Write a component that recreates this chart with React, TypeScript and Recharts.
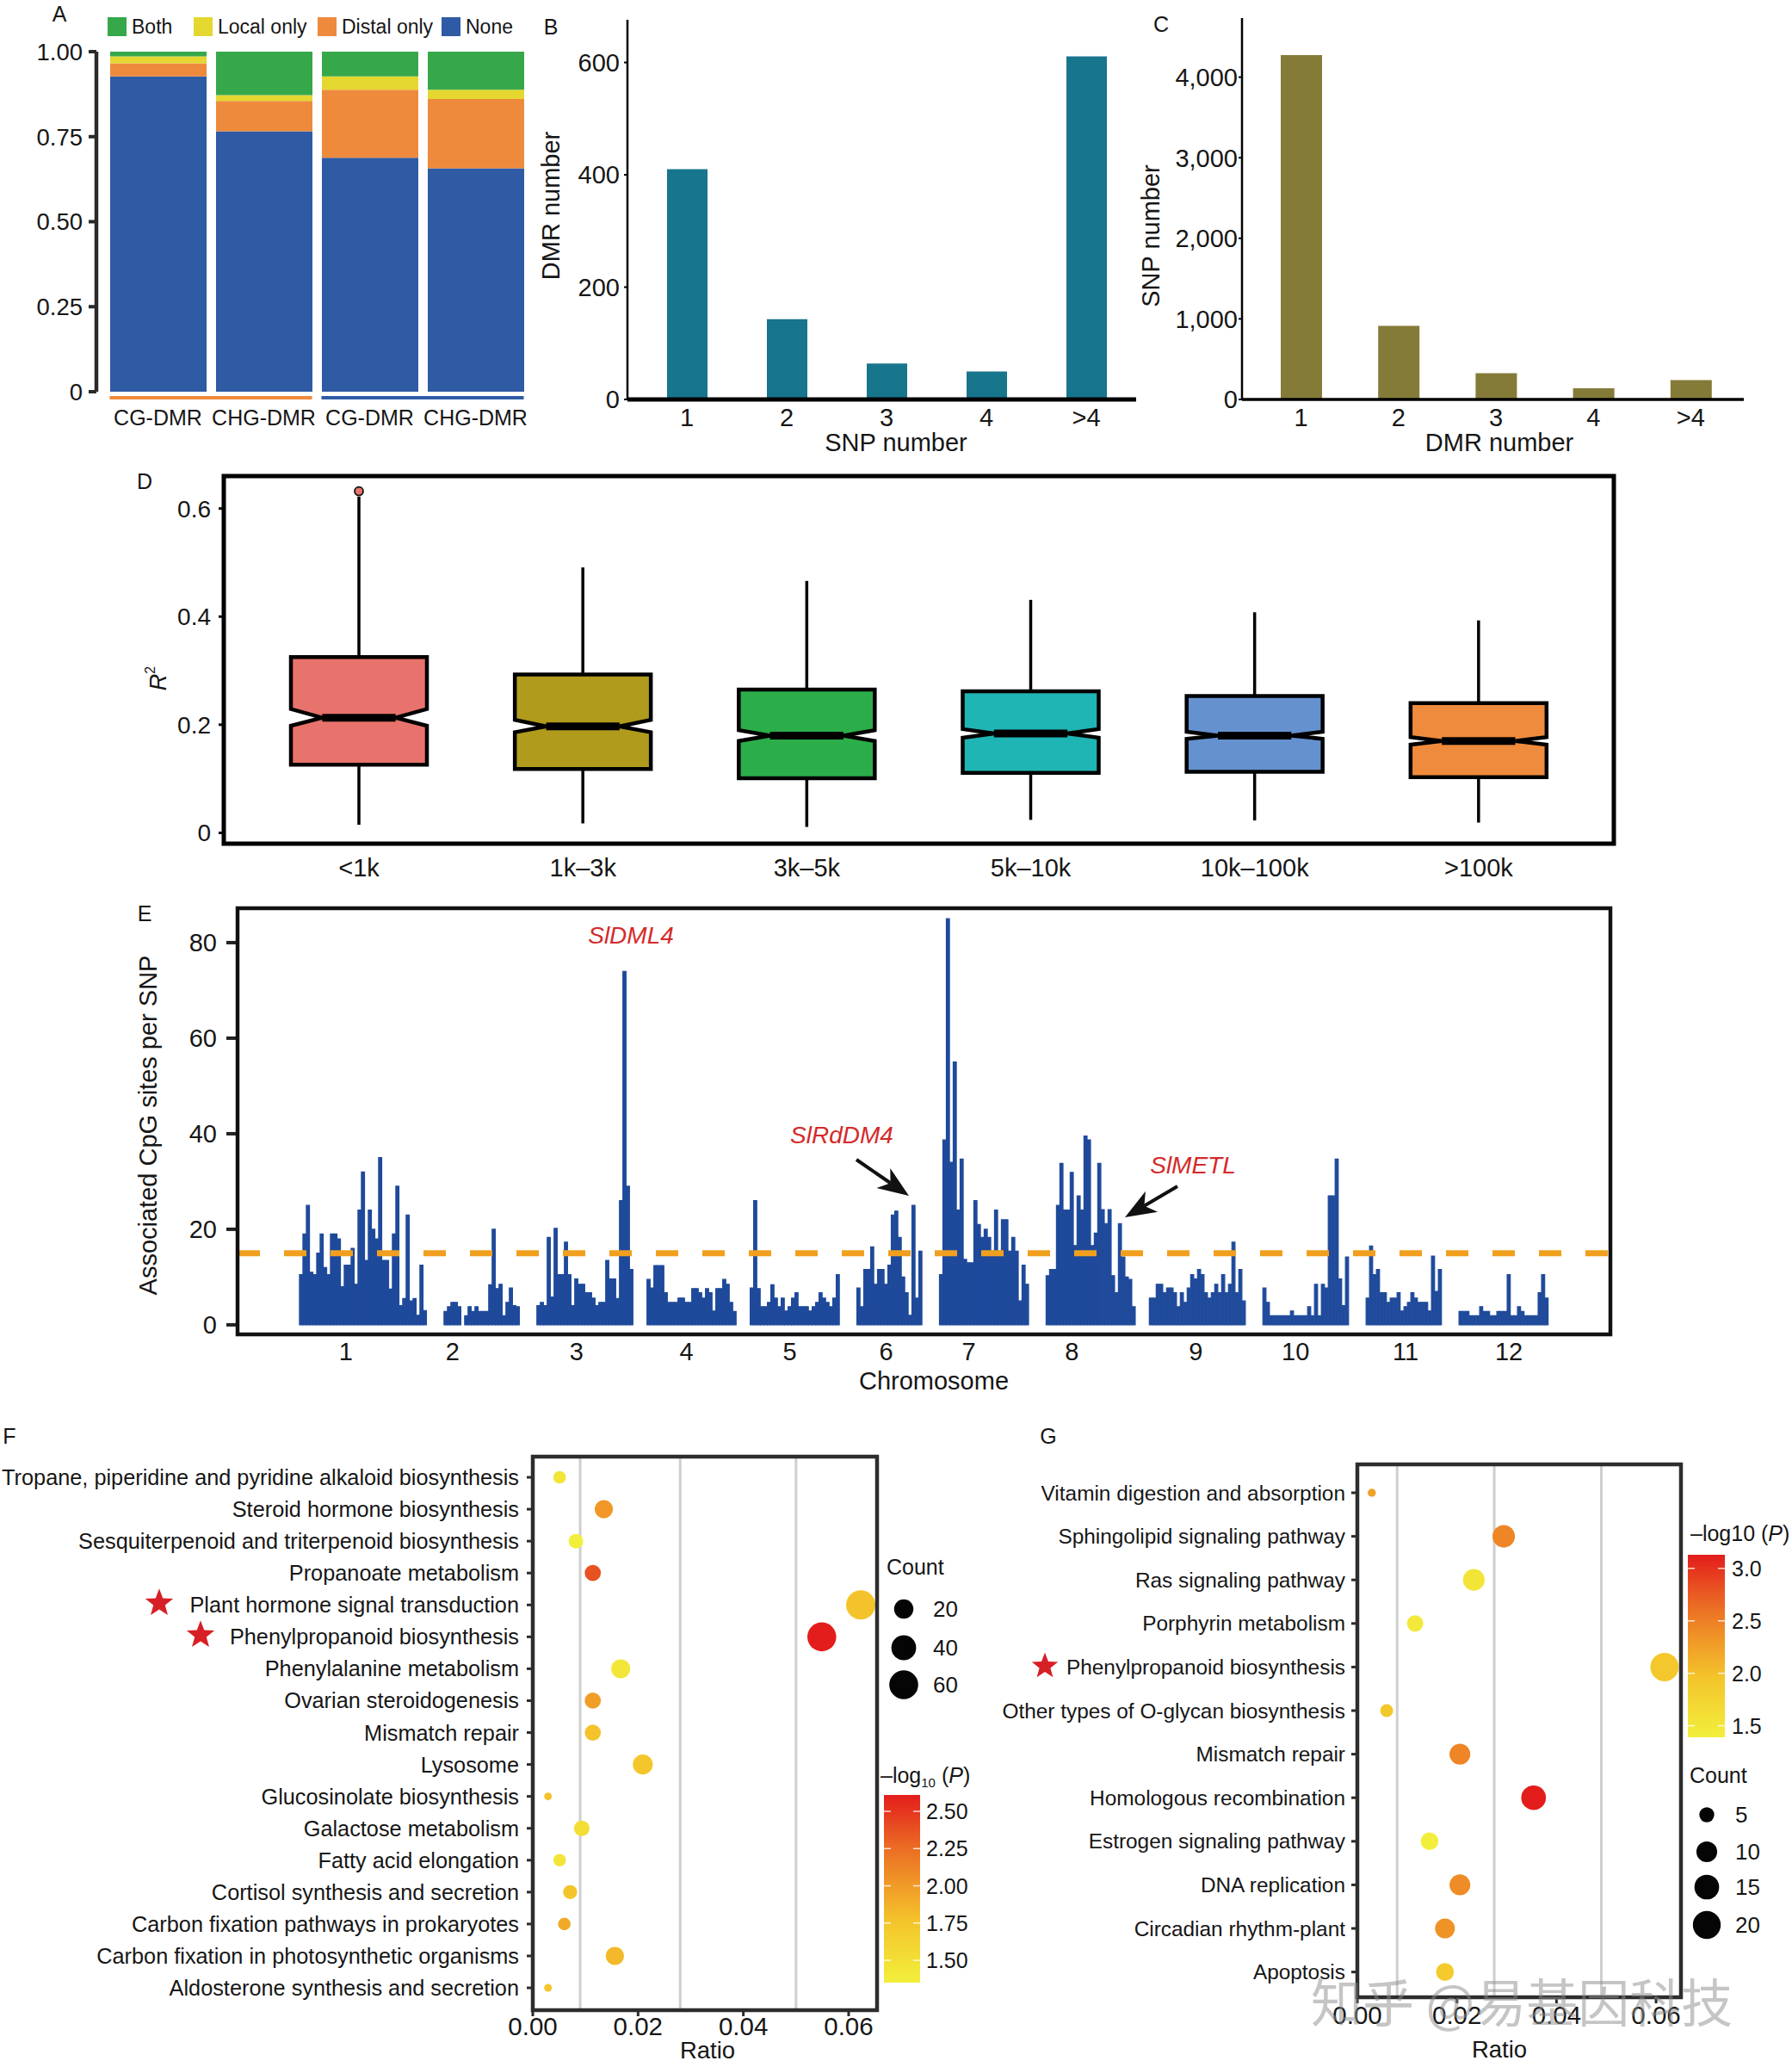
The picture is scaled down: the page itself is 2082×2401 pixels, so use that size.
import React from 'react';
import { BarChart, Bar, XAxis, YAxis, ScatterChart, Scatter, ReferenceLine } from 'recharts';

const FONT = "'Liberation Sans', Arial, Helvetica, sans-serif";
const INK = '#161616';
const tickFont = (size: number) => ({ fontSize: size, fill: INK, fontFamily: FONT });

// plot rectangles in page pixels; every chart is laid out from the page origin
const PLOT = {
  A: { left: 112, top: 60, right: 614, bottom: 455 },
  B: { left: 729, top: 23, right: 1320, bottom: 464 },
  C: { left: 1443, top: 21, right: 2026, bottom: 464 },
  D: { left: 260, top: 553, right: 1875, bottom: 980 },
  E: { left: 276, top: 1055, right: 1871, bottom: 1550 },
  F: { left: 619, top: 1692, right: 1019, bottom: 2335 },
  G: { left: 1577, top: 1701, right: 1953, bottom: 2320 },
};

/* ---------- A: share of DMRs by association class ---------- */
const dmrTypes = ['CG-DMR', 'CHG-DMR', 'CG-DMR', 'CHG-DMR'];
const dmrGroupColors = ['#ef8a3c', '#ef8a3c', '#2f5ba5', '#2f5ba5'];
const shareNone = [0.927, 0.766, 0.688, 0.657];
const shareDistal = [0.039, 0.089, 0.2, 0.204];
const shareLocal = [0.02, 0.017, 0.039, 0.027];
const shareBoth = [0.014, 0.128, 0.073, 0.112];
const classNames = ['Both', 'Local only', 'Distal only', 'None'];
const classColors = ['#36a84a', '#e4d72f', '#ee8a3c', '#2f5aa4'];
const classLegendX = [125, 225, 369, 513];

/* ---------- B / C: SNP–DMR counts ---------- */
const countBins = ['1', '2', '3', '4', '>4'];
const dmrPerSnpBin = [410, 143, 64, 50, 611];
const snpPerDmrBin = [4274, 913, 326, 139, 241];

/* ---------- D: R² by distance ---------- */
const distClasses = ['<1k', '1k–3k', '3k–5k', '5k–10k', '10k–100k', '>100k'];
const r2Low = [0.015, 0.0175, 0.011, 0.024, 0.023, 0.019];
const r2Q1 = [0.126, 0.118, 0.101, 0.111, 0.113, 0.103];
const r2Median = [0.213, 0.197, 0.18, 0.184, 0.18, 0.17];
const r2Q3 = [0.325, 0.293, 0.265, 0.262, 0.253, 0.24];
const r2High = [0.622, 0.491, 0.466, 0.431, 0.408, 0.393];
const r2NotchLo = [0.198, 0.186, 0.17, 0.176, 0.174, 0.163];
const r2NotchHi = [0.229, 0.209, 0.19, 0.192, 0.187, 0.177];
const r2Outliers = [[0.632], [], [], [], [], []];
const boxColors = ['#e8736c', '#b09b1c', '#2bae4a', '#1fb5b4', '#6592cf', '#ef8b3c'];

/* ---------- E: associated CpG sites per SNP along the genome ---------- */
const chromNames = ['1', '2', '3', '4', '5', '6', '7', '8', '9', '10', '11', '12'];
const chromStartBin = [18, 60, 87, 119, 149, 180, 204, 235, 265, 298, 328, 355];
const chromLabelBin = [31, 62, 98, 130, 160, 188, 212, 242, 278, 307, 339, 369];
const E_BINS = 399;
const chr1 = [10.5, 19, 25, 11, 10.5, 15, 19, 12, 10.5, 19, 19, 18, 8, 12.5, 12.5, 16, 8.5, 24, 32, 13.5, 24, 20, 18, 35, 13.5, 13.5, 7.5, 19, 29, 4, 5.5, 23, 5, 5.5, 2, 12.5, 3];
const chr2 = [2.8, 3.8, 4.7, 4.7, 3.8, null, 1.9, 3.8, 2.8, 3.8, 2.8, 2.8, 2.8, 8.4, 20, 7.6, 8.5, 1.9, 4.7, 7.7, 4, 3.8];
const chr3 = [4, 4.7, 4, 18.3, 5.8, 20.2, 10.5, 10.5, 17.3, 10.5, 4, 9.6, 8.5, 8.5, 6.7, 6.7, 5.6, 4, 4.7, 4.7, 13.5, 9.6, 9.6, 5.5, 26, 74, 29, 11.6];
const chr4 = [9.5, 7.7, 12.4, 12.4, 12.4, 6.7, 4.7, 4.7, 4.7, 5.6, 5.6, 4.7, 4.7, 7.6, 7.6, 6.7, 5.6, 7.6, 6.7, 2.9, 7.6, 7.6, 9.5, 8.5, 4.7, 2.8];
const chr5 = [7.7, 26, 7.6, 3.8, 3.8, 4.7, 8.4, 5.6, 3.8, 5.6, 2.9, 3.8, 5.6, 6.7, 3.8, 3.8, 3.8, 2.9, 3.8, 4.7, 6.7, 5.6, 4.7, 3.8, 5.6, 10.5];
const chr6 = [7.7, 3.8, 11.6, 11.6, 16.3, 8.5, 11.6, 11.6, 8.5, 12.5, 23, 23.8, 18.3, 10, 6.7, 2, 25, 5.6, 15.4];
const chr7 = [10.5, 38.7, 85, 34, 55, 24, 34.7, 13.7, 13, 13, 26, 21, 18.3, 20, 18.3, 15.4, 24, 15.4, 22, 22, 15.4, 18.3, 15.4, 5, 12.5, 8.5];
const chr8 = [10.3, 11.6, 11.6, 25, 33.8, 24, 24, 31.9, 16.6, 27, 24, 39.5, 38.7, 16.6, 19.2, 33.8, 24.1, 21.2, 24.1, 10.3, 6.7, 21.2, 14.2, 10, 9.5, 3.8];
const chr9 = [5.6, 5.6, 8.5, 8.5, 6.7, 7.7, 7.7, 6.7, 3.8, 6.7, 4.7, 7.7, 10.5, 9.6, 11.6, 10.5, 6.7, 5.6, 6.7, 8.5, 6.7, 10.5, 6.7, 8.5, 17.3, 6.7, 11.6, 5];
const chr10 = [7.7, 4.7, 1.9, 1.9, 1.9, 1.9, 1.9, 1.9, 2.9, 1.9, 1.9, 1.9, 1.9, 3.8, 1.9, 8.5, 1.9, 8.5, 7.7, 27, 27, 34.7, 9.6, 4, 14.2];
const chr11 = [5.6, 16.5, 10.5, 11.6, 6.7, 6.7, 4.7, 5.6, 5.6, 6.7, 2.9, 3.8, 4.7, 6.7, 5.6, 4.7, 4.7, 4.7, 2.9, 14.4, 7, 11.6];
const chr12 = [2.8, 2.8, 2.8, 1.9, 1.9, 1.9, 3.8, 2.8, 2.8, 1.9, 1.9, 2.8, 2.8, 2.8, 10.5, 1.9, 1.9, 3.8, 2.8, 1.9, 1.9, 1.9, 1.9, 6.7, 10.5, 5.6];
const chromSites = [chr1, chr2, chr3, chr4, chr5, chr6, chr7, chr8, chr9, chr10, chr11, chr12];
const SITE_THRESHOLD = 15;
const SITE_BLUE = '#1f4a9b';

/* ---------- F: KEGG enrichment ---------- */
const fTerms = [
  'Tropane, piperidine and pyridine alkaloid biosynthesis',
  'Steroid hormone biosynthesis',
  'Sesquiterpenoid and triterpenoid biosynthesis',
  'Propanoate metabolism',
  'Plant hormone signal transduction',
  'Phenylpropanoid biosynthesis',
  'Phenylalanine metabolism',
  'Ovarian steroidogenesis',
  'Mismatch repair',
  'Lysosome',
  'Glucosinolate biosynthesis',
  'Galactose metabolism',
  'Fatty acid elongation',
  'Cortisol synthesis and secretion',
  'Carbon fixation pathways in prokaryotes',
  'Carbon fixation in photosynthetic organisms',
  'Aldosterone synthesis and secretion',
];
const fRatio = [0.0051, 0.0135, 0.0082, 0.0114, 0.0623, 0.0549, 0.0167, 0.0114, 0.0114, 0.0209, 0.0029, 0.0093, 0.0051, 0.0071, 0.006, 0.0156, 0.0029];
const fCount = [6, 17, 9, 12, 62, 60, 19, 12, 12, 22, 3, 11, 6, 8, 6, 17, 3];
const fLogP = [1.45, 2.02, 1.35, 2.38, 1.77, 2.61, 1.44, 1.98, 1.78, 1.75, 1.78, 1.51, 1.46, 1.76, 1.92, 1.83, 1.76];
const fStarred = [4, 5];

/* ---------- G: KEGG enrichment ---------- */
const gTerms = [
  'Vitamin digestion and absorption',
  'Sphingolipid signaling pathway',
  'Ras signaling pathway',
  'Porphyrin metabolism',
  'Phenylpropanoid biosynthesis',
  'Other types of O-glycan biosynthesis',
  'Mismatch repair',
  'Homologous recombination',
  'Estrogen signaling pathway',
  'DNA replication',
  'Circadian rhythm-plant',
  'Apoptosis',
];
const gRatio = [0.0029, 0.0294, 0.0234, 0.0116, 0.0617, 0.0059, 0.0206, 0.0354, 0.0145, 0.0206, 0.0176, 0.0176];
const gCount = [3, 12, 11, 6, 21, 4, 10, 15, 7, 10, 9, 7];
const gLogP = [2.25, 2.45, 1.53, 1.47, 1.91, 1.93, 2.45, 3.13, 1.39, 2.4, 2.35, 1.88];

const ratioTicks = [0, 0.02, 0.04, 0.06];

// yellow -> orange -> red ramp shared by both enrichment panels
const heatStops: [number, string][] = [
  [0, '#f2ef3c'],
  [0.33, '#f4c42b'],
  [0.52, '#f09a28'],
  [0.72, '#eb6c24'],
  [1, '#e31d1c'],
];
const hexRgb = (h: string) => [1, 3, 5].map((k) => parseInt(h.slice(k, k + 2), 16));
const heat = (t: number) => {
  const u = Math.min(1, Math.max(0, t));
  for (let k = 1; k < heatStops.length; k++) {
    const [o1, c1] = heatStops[k];
    const [o0, c0] = heatStops[k - 1];
    if (u <= o1) {
      const f = (u - o0) / (o1 - o0);
      const a = hexRgb(c0);
      const b = hexRgb(c1);
      return `rgb(${a.map((v, j) => Math.round(v + (b[j] - v) * f)).join(',')})`;
    }
  }
  return heatStops[heatStops.length - 1][1];
};

// ggplot-style area scaling: diameter grows with sqrt of the rescaled count
const bubbleSize = (cMin: number, cMax: number, dMin: number, dMax: number) => (c: number) =>
  dMin + (dMax - dMin) * Math.sqrt(Math.max(0, (c - cMin) / (cMax - cMin)));

const F_P = [1.35, 2.61];
const G_P = [1.39, 3.13];
const sizeF = bubbleSize(3, 62, 9, 34);
const sizeG = bubbleSize(3, 21, 9.5, 33);
const colorF = (v: number) => heat((v - F_P[0]) / (F_P[1] - F_P[0]));
const colorG = (v: number) => heat((v - G_P[0]) / (G_P[1] - G_P[0]));

const Layer = ({ children }: { children: React.ReactNode }) => (
  <div style={{ position: 'absolute', left: 0, top: 0 }}>{children}</div>
);

/* ---------------- A ---------------- */
const DmrTick = (props: any) => {
  const { x, y, payload } = props;
  const i = payload.value as number;
  const lead = i % 2 === 0;
  return (
    <g>
      <line x1={lead ? x - 56 : x - 61.5} x2={lead ? x + 61.5 : x + 56} y1={y + 7} y2={y + 7} stroke={dmrGroupColors[i]} strokeWidth={4} />
      <text x={x} y={y + 39} textAnchor="middle" fontSize={25} fill={INK} fontFamily={FONT}>
        {dmrTypes[i]}
      </text>
    </g>
  );
};

const PanelA = () => {
  const p = PLOT.A;
  const rows = dmrTypes.map((_, i) => ({
    id: i,
    none: shareNone[i],
    distal: shareDistal[i],
    local: shareLocal[i],
    both: shareBoth[i],
  }));
  return (
    <Layer>
      <BarChart width={640} height={p.bottom + 50} data={rows} margin={{ top: p.top, right: 640 - p.right, bottom: 0, left: p.left - 80 }}>
        <XAxis dataKey="id" height={50} padding={{ left: 10, right: 0 }} axisLine={false} tickLine={false} tickSize={0} tickMargin={0} interval={0} tick={<DmrTick />} />
        <YAxis
          width={80}
          domain={[0, 1]}
          ticks={[0, 0.25, 0.5, 0.75, 1]}
          tickFormatter={(v: number) => (v === 0 ? '0' : v.toFixed(2))}
          axisLine={{ stroke: '#2a2a2a', strokeWidth: 4.5 }}
          tickLine={{ stroke: '#2a2a2a', strokeWidth: 4 }}
          tickSize={9}
          tickMargin={7}
          interval={0}
          tick={tickFont(27.5)}
        />
        <Bar dataKey="none" stackId="s" fill={classColors[3]} barSize={112} isAnimationActive={false} />
        <Bar dataKey="distal" stackId="s" fill={classColors[2]} barSize={112} isAnimationActive={false} />
        <Bar dataKey="local" stackId="s" fill={classColors[1]} barSize={112} isAnimationActive={false} />
        <Bar dataKey="both" stackId="s" fill={classColors[0]} barSize={112} isAnimationActive={false} />
      </BarChart>
    </Layer>
  );
};

/* ---------------- B & C ---------------- */
const CountBars = ({ p, width, values, domainMax, ticks, fmt, color, barSize, pad, xLine, labelGap }: any) => {
  const rows = countBins.map((k, i) => ({ k, n: values[i] }));
  return (
    <Layer>
      <BarChart width={width} height={540} data={rows} margin={{ top: p.top, right: width - p.right, bottom: 540 - p.bottom - 60, left: p.left - 110 }}>
        <XAxis dataKey="k" height={60} padding={pad} axisLine={{ stroke: '#000', strokeWidth: xLine }} tickLine={false} tickSize={0} tickMargin={10} interval={0} tick={tickFont(29)} />
        <YAxis
          width={110}
          domain={[0, domainMax]}
          ticks={ticks}
          tickFormatter={fmt}
          axisLine={{ stroke: '#000', strokeWidth: 2.5 }}
          tickLine={{ stroke: '#000', strokeWidth: 2 }}
          tickSize={4}
          tickMargin={labelGap}
          interval={0}
          tick={tickFont(29)}
        />
        <Bar dataKey="n" fill={color} barSize={barSize} isAnimationActive={false} />
      </BarChart>
    </Layer>
  );
};

/* ---------------- D ---------------- */
const BoxShape = (props: any) => {
  const { x, y, width, height, payload, index } = props;
  if (height == null || !payload) return <g />;
  const top = Math.min(y, y + height);
  const h = Math.abs(height);
  const py = (v: number) => top + ((payload.hi - v) / (payload.hi - payload.lo)) * h;
  const cx = x + width / 2;
  const inset = width * 0.23;
  const L = x;
  const R = x + width;
  const yq3 = py(payload.q3);
  const yq1 = py(payload.q1);
  const ym = py(payload.med);
  const yn1 = py(payload.nHi);
  const yn2 = py(payload.nLo);
  const pts = [
    [L, yq3], [R, yq3], [R, yn1], [R - inset, ym], [R, yn2],
    [R, yq1], [L, yq1], [L, yn2], [L + inset, ym], [L, yn1],
  ];
  return (
    <g>
      <line x1={cx} x2={cx} y1={py(payload.hi)} y2={yq3} stroke="#000" strokeWidth={3.5} />
      <line x1={cx} x2={cx} y1={yq1} y2={py(payload.lo)} stroke="#000" strokeWidth={3.5} />
      <polygon points={pts.map((q) => q.join(',')).join(' ')} fill={boxColors[index]} stroke="#000" strokeWidth={4.5} />
      <line x1={L + inset} x2={R - inset} y1={ym} y2={ym} stroke="#000" strokeWidth={9} />
      {payload.out.map((v: number) => (
        <circle key={v} cx={cx} cy={py(v)} r={5} fill={boxColors[index]} stroke="#111" strokeWidth={1.8} />
      ))}
    </g>
  );
};

const PanelD = () => {
  const p = PLOT.D;
  const rows = distClasses.map((name, i) => ({
    name,
    lo: r2Low[i],
    q1: r2Q1[i],
    med: r2Median[i],
    q3: r2Q3[i],
    hi: r2High[i],
    nLo: r2NotchLo[i],
    nHi: r2NotchHi[i],
    out: r2Outliers[i],
  }));
  return (
    <Layer>
      <BarChart width={1900} height={p.bottom + 60} data={rows} margin={{ top: p.top, right: 1900 - p.right, bottom: 0, left: p.left - 120 }}>
        <XAxis dataKey="name" height={60} padding={{ left: 27, right: 27 }} axisLine={false} tickLine={false} tickSize={0} tickMargin={17} interval={0} tick={tickFont(29)} />
        <YAxis
          width={120}
          domain={[-0.02, 0.66]}
          ticks={[0, 0.2, 0.4, 0.6]}
          tickFormatter={(v: number) => (v === 0 ? '0' : String(v))}
          axisLine={false}
          tickLine={{ stroke: '#111', strokeWidth: 3 }}
          tickSize={6}
          tickMargin={9}
          interval={0}
          tick={tickFont(28)}
        />
        <Bar dataKey={(d: any) => [d.lo, d.hi]} barSize={158} shape={BoxShape} isAnimationActive={false} />
      </BarChart>
    </Layer>
  );
};

/* ---------------- E ---------------- */
const eRows: { bin: number; v: number | null }[] = Array.from({ length: E_BINS }, (_, i) => ({ bin: i, v: null }));
chromSites.forEach((vals, c) => {
  vals.forEach((v, j) => {
    eRows[chromStartBin[c] + j].v = v;
  });
});

const ChromTick = (props: any) => {
  const { x, y, payload } = props;
  const c = chromLabelBin.indexOf(payload.value);
  if (c < 0) return <g />;
  return (
    <text x={x} y={y} dy="0.71em" textAnchor="middle" fontSize={29} fill={INK} fontFamily={FONT}>
      {chromNames[c]}
    </text>
  );
};

const PanelE = () => {
  const p = PLOT.E;
  return (
    <Layer>
      <BarChart width={1900} height={p.bottom + 70} data={eRows} margin={{ top: p.top, right: 1900 - p.right, bottom: 0, left: p.left - 136 }} barCategoryGap={0} barGap={0}>
        <XAxis dataKey="bin" height={70} axisLine={false} tickLine={false} tickSize={0} tickMargin={9} interval={0} tick={<ChromTick />} />
        <YAxis
          width={136}
          domain={[-2, 87.2]}
          ticks={[0, 20, 40, 60, 80]}
          axisLine={false}
          tickLine={{ stroke: '#222', strokeWidth: 4 }}
          tickSize={13}
          tickMargin={11}
          interval={0}
          tick={tickFont(29)}
        />
        {/* thin matching outline closes the hairline seams between neighbouring bins */}
        <Bar dataKey="v" fill={SITE_BLUE} stroke={SITE_BLUE} strokeWidth={1.2} barSize={4.5} isAnimationActive={false} />
        <ReferenceLine y={SITE_THRESHOLD} stroke="#f0a01e" strokeWidth={7} strokeDasharray="26 28" />
      </BarChart>
    </Layer>
  );
};

/* ---------------- F & G ---------------- */
const bubble = (size: (c: number) => number, color: (v: number) => string) => (props: any) => {
  const { cx, cy, payload } = props;
  if (cx == null || cy == null) return <g />;
  return <circle cx={cx} cy={cy} r={size(payload.count) / 2} fill={color(payload.logp)} />;
};

const Enrichment = ({ p, width, terms, ratio, count, logp, size, color, xMax, grid, axisH, yW, yPad, yMargin, tickM, labelSize }: any) => {
  const rows = terms.map((term: string, i: number) => ({ idx: i, term, ratio: ratio[i], count: count[i], logp: logp[i] }));
  const n = terms.length;
  return (
    <Layer>
      <ScatterChart width={width} height={p.bottom + axisH} margin={{ top: p.top, right: width - p.right, bottom: 0, left: p.left - yW }}>
        <XAxis
          type="number"
          dataKey="ratio"
          domain={[0, xMax]}
          ticks={ratioTicks}
          tickFormatter={(v: number) => v.toFixed(2)}
          height={axisH}
          axisLine={false}
          tickLine={{ stroke: '#2b2b2b', strokeWidth: 3 }}
          tickSize={7}
          tickMargin={tickM}
          interval={0}
          tick={tickFont(29.5)}
        />
        <YAxis
          type="number"
          dataKey="idx"
          reversed
          domain={[-yPad[0], n - 1 + yPad[1]]}
          ticks={terms.map((_: string, i: number) => i)}
          tickFormatter={(i: number) => terms[i]}
          width={yW}
          axisLine={false}
          tickLine={{ stroke: '#2b2b2b', strokeWidth: 3 }}
          tickSize={7}
          tickMargin={yMargin}
          interval={0}
          tick={tickFont(labelSize)}
        />
        {grid.map((g: number) => (
          <ReferenceLine key={g} x={g} stroke="#cfcfcf" strokeWidth={3} />
        ))}
        <Scatter data={rows} shape={bubble(size, color)} isAnimationActive={false} />
      </ScatterChart>
    </Layer>
  );
};

/* ---------------- decorations ---------------- */
const Txt = ({ x, y, size, anchor = 'middle', rotate = 0, italic = false, fill = INK, children }: any) => (
  <text
    x={x}
    y={y}
    fontSize={size}
    textAnchor={anchor}
    dominantBaseline="central"
    fill={fill}
    fontStyle={italic ? 'italic' : 'normal'}
    transform={rotate ? `rotate(${rotate} ${x} ${y})` : undefined}
  >
    {children}
  </text>
);

const Arrow = ({ x1, y1, x2, y2 }: any) => {
  const len = Math.hypot(x2 - x1, y2 - y1);
  const ux = (x2 - x1) / len;
  const uy = (y2 - y1) / len;
  const nx = -uy;
  const ny = ux;
  const head = 36;
  const half = 14;
  const notch = 26;
  const bx = x2 - ux * head;
  const by = y2 - uy * head;
  const mx = x2 - ux * notch;
  const my = y2 - uy * notch;
  const pts = [[x2, y2], [bx + nx * half, by + ny * half], [mx, my], [bx - nx * half, by - ny * half]];
  return (
    <g>
      <line x1={x1} y1={y1} x2={mx} y2={my} stroke="#111" strokeWidth={4} />
      <polygon points={pts.map((q) => q.join(',')).join(' ')} fill="#111" />
    </g>
  );
};

const starPoints = (cx: number, cy: number, R: number) =>
  Array.from({ length: 10 }, (_, k) => {
    const r = k % 2 ? R * 0.42 : R;
    const a = -Math.PI / 2 + (k * Math.PI) / 5;
    return `${cx + r * Math.cos(a)},${cy + r * Math.sin(a)}`;
  }).join(' ');

const Frame = ({ r, w, color = '#111' }: any) => (
  <rect x={r.left} y={r.top} width={r.right - r.left} height={r.bottom - r.top} fill="none" stroke={color} strokeWidth={w} />
);

const ColorBar = ({ x, y, w, h, range, ticks, digits, labelX }: any) => {
  const vy = (v: number) => y + h - ((v - range[0]) / (range[1] - range[0])) * h;
  return (
    <g>
      <rect x={x} y={y} width={w} height={h} fill="url(#heatRamp)" />
      {ticks.map((t: number) => (
        <g key={t}>
          <line x1={x} x2={x + 8} y1={vy(t)} y2={vy(t)} stroke="#fff" strokeWidth={1.5} opacity={0.8} />
          <line x1={x + w - 8} x2={x + w} y1={vy(t)} y2={vy(t)} stroke="#fff" strokeWidth={1.5} opacity={0.8} />
          <Txt x={labelX} y={vy(t)} size={25} anchor="start">{t.toFixed(digits)}</Txt>
        </g>
      ))}
    </g>
  );
};

const SizeKey = ({ x, ys, counts, size, labelX }: any) => (
  <g>
    {counts.map((c: number, i: number) => (
      <g key={c}>
        <circle cx={x} cy={ys[i]} r={size(c) / 2} fill="#050505" />
        <Txt x={labelX} y={ys[i]} size={26} anchor="start">{c}</Txt>
      </g>
    ))}
  </g>
);

const Overlay = () => {
  const rowF = (i: number) => PLOT.F.top + 24 + i * 37.06;
  const rowG = (i: number) => PLOT.G.top + 33 + i * 50.6;
  return (
    <svg width={2082} height={2401} style={{ position: 'absolute', left: 0, top: 0, pointerEvents: 'none' }} fontFamily={FONT}>
      <defs>
        <linearGradient id="heatRamp" x1="0" y1="1" x2="0" y2="0">
          {heatStops.map(([o, c]) => (
            <stop key={o} offset={o} stopColor={c} />
          ))}
        </linearGradient>
      </defs>

      {/* panel tags */}
      <Txt x={69} y={16} size={25}>A</Txt>
      <Txt x={640} y={31} size={25}>B</Txt>
      <Txt x={1349} y={28} size={25}>C</Txt>
      <Txt x={168} y={559} size={25}>D</Txt>
      <Txt x={168} y={1061} size={25}>E</Txt>
      <Txt x={11} y={1668} size={25}>F</Txt>
      <Txt x={1218} y={1668} size={25}>G</Txt>

      {/* A legend */}
      {classNames.map((name, i) => (
        <g key={name}>
          <rect x={classLegendX[i]} y={20} width={22} height={22} fill={classColors[i]} />
          <Txt x={classLegendX[i] + 28} y={31} size={23} anchor="start">{name}</Txt>
        </g>
      ))}

      {/* axis titles */}
      <Txt x={640} y={239} size={29} rotate={-90}>DMR number</Txt>
      <Txt x={1041} y={514} size={29}>SNP number</Txt>
      <Txt x={1337} y={274} size={29} rotate={-90}>SNP number</Txt>
      <Txt x={1742} y={514} size={29}>DMR number</Txt>
      <text x={184} y={788} fontSize={27} textAnchor="middle" dominantBaseline="central" transform="rotate(-90 184 788)" fill={INK}>
        <tspan fontStyle="italic">R</tspan>
        <tspan fontSize={16} dy={-10}>2</tspan>
      </text>
      <Txt x={172} y={1307} size={29} rotate={-90}>Associated CpG sites per SNP</Txt>
      <Txt x={1085} y={1604} size={29}>Chromosome</Txt>
      <Txt x={822} y={2381} size={27.5}>Ratio</Txt>
      <Txt x={1742} y={2380} size={27.5}>Ratio</Txt>

      {/* panel frames */}
      <Frame r={PLOT.D} w={5} color="#000" />
      <Frame r={PLOT.E} w={4.5} />
      <Frame r={PLOT.F} w={4.5} color="#2d2d2d" />
      <Frame r={PLOT.G} w={4.5} color="#2d2d2d" />

      {/* E gene call-outs */}
      <Txt x={733} y={1086} size={28} italic fill="#d42a2a">SlDML4</Txt>
      <Txt x={978} y={1318} size={28} italic fill="#d42a2a">SlRdDM4</Txt>
      <Txt x={1386} y={1353} size={28} italic fill="#d42a2a">SlMETL</Txt>
      <Arrow x1={995} y1={1347} x2={1056} y2={1389} />
      <Arrow x1={1368} y1={1378} x2={1307} y2={1414} />

      {/* highlighted pathways */}
      {fStarred.map((i, k) => (
        <polygon key={i} points={starPoints(k === 0 ? 185 : 233, rowF(i) - 2, 17)} fill="#d71f26" />
      ))}
      <polygon points={starPoints(1214, rowG(4) - 1, 16)} fill="#d71f26" />

      {/* F legends */}
      <Txt x={1030} y={1820} size={25} anchor="start">Count</Txt>
      <SizeKey x={1050} ys={[1869, 1914, 1957]} counts={[20, 40, 60]} size={sizeF} labelX={1084} />
      <text x={1023} y={2062} fontSize={25} dominantBaseline="central" fill={INK}>
        –log<tspan fontSize={15} dy={8}>10</tspan>
        <tspan dy={-8}> (</tspan>
        <tspan fontStyle="italic">P</tspan>)
      </text>
      <ColorBar x={1027} y={2085} w={42} h={218} range={F_P} ticks={[1.5, 1.75, 2, 2.25, 2.5]} digits={2} labelX={1076} />

      {/* G legends */}
      <text x={1964} y={1781} fontSize={25} dominantBaseline="central" fill={INK}>
        –log10 (<tspan fontStyle="italic">P</tspan>)
      </text>
      <ColorBar x={1961} y={1806} w={43} h={212} range={G_P} ticks={[1.5, 2, 2.5, 3]} digits={1} labelX={2012} />
      <Txt x={1963} y={2062} size={25} anchor="start">Count</Txt>
      <SizeKey x={1983} ys={[2108, 2151, 2192, 2236]} counts={[5, 10, 15, 20]} size={sizeG} labelX={2016} />

      {/* source watermark */}
      <text x={1523} y={2322} fontSize={60} dominantBaseline="central" fill="#8c8c8c" fillOpacity={0.5} fontFamily="'Noto Sans CJK SC', sans-serif">
        知乎 @易基因科技
      </text>
    </svg>
  );
};

export default function App() {
  return (
    <div style={{ position: 'absolute', left: 0, top: 0, width: 2082, height: 2401, background: '#fff', fontFamily: FONT }}>
      <PanelA />
      <CountBars p={PLOT.B} width={1340} values={dmrPerSnpBin} domainMax={676} ticks={[0, 200, 400, 600]} fmt={(v: number) => String(v)} color="#17758c" barSize={47} pad={{ left: 11, right: 0 }} xLine={5} labelGap={5} />
      <CountBars
        p={PLOT.C}
        width={2060}
        values={snpPerDmrBin}
        domainMax={4733}
        ticks={[0, 1000, 2000, 3000, 4000]}
        fmt={(v: number) => v.toLocaleString('en-US')}
        color="#857b38"
        barSize={48}
        pad={{ left: 12, right: 5 }}
        xLine={3.5}
        labelGap={1}
      />
      <PanelD />
      <PanelE />
      <Enrichment
        p={PLOT.F}
        width={1180}
        terms={fTerms}
        ratio={fRatio}
        count={fCount}
        logp={fLogP}
        size={sizeF}
        color={colorF}
        xMax={0.0654}
        grid={[0.009, 0.028, 0.05]}
        axisH={66}
        yW={619}
        yPad={[0.648, 0.7]}
        yMargin={9}
        tickM={1}
        labelSize={25.3}
      />
      <Enrichment
        p={PLOT.G}
        width={2082}
        terms={gTerms}
        ratio={gRatio}
        count={gCount}
        logp={gLogP}
        size={sizeG}
        color={colorG}
        xMax={0.065}
        grid={[0.008, 0.0275, 0.049]}
        axisH={81}
        yW={427}
        yPad={[0.652, 0.58]}
        yMargin={7}
        tickM={3.5}
        labelSize={24.4}
      />
      <Overlay />
    </div>
  );
}
